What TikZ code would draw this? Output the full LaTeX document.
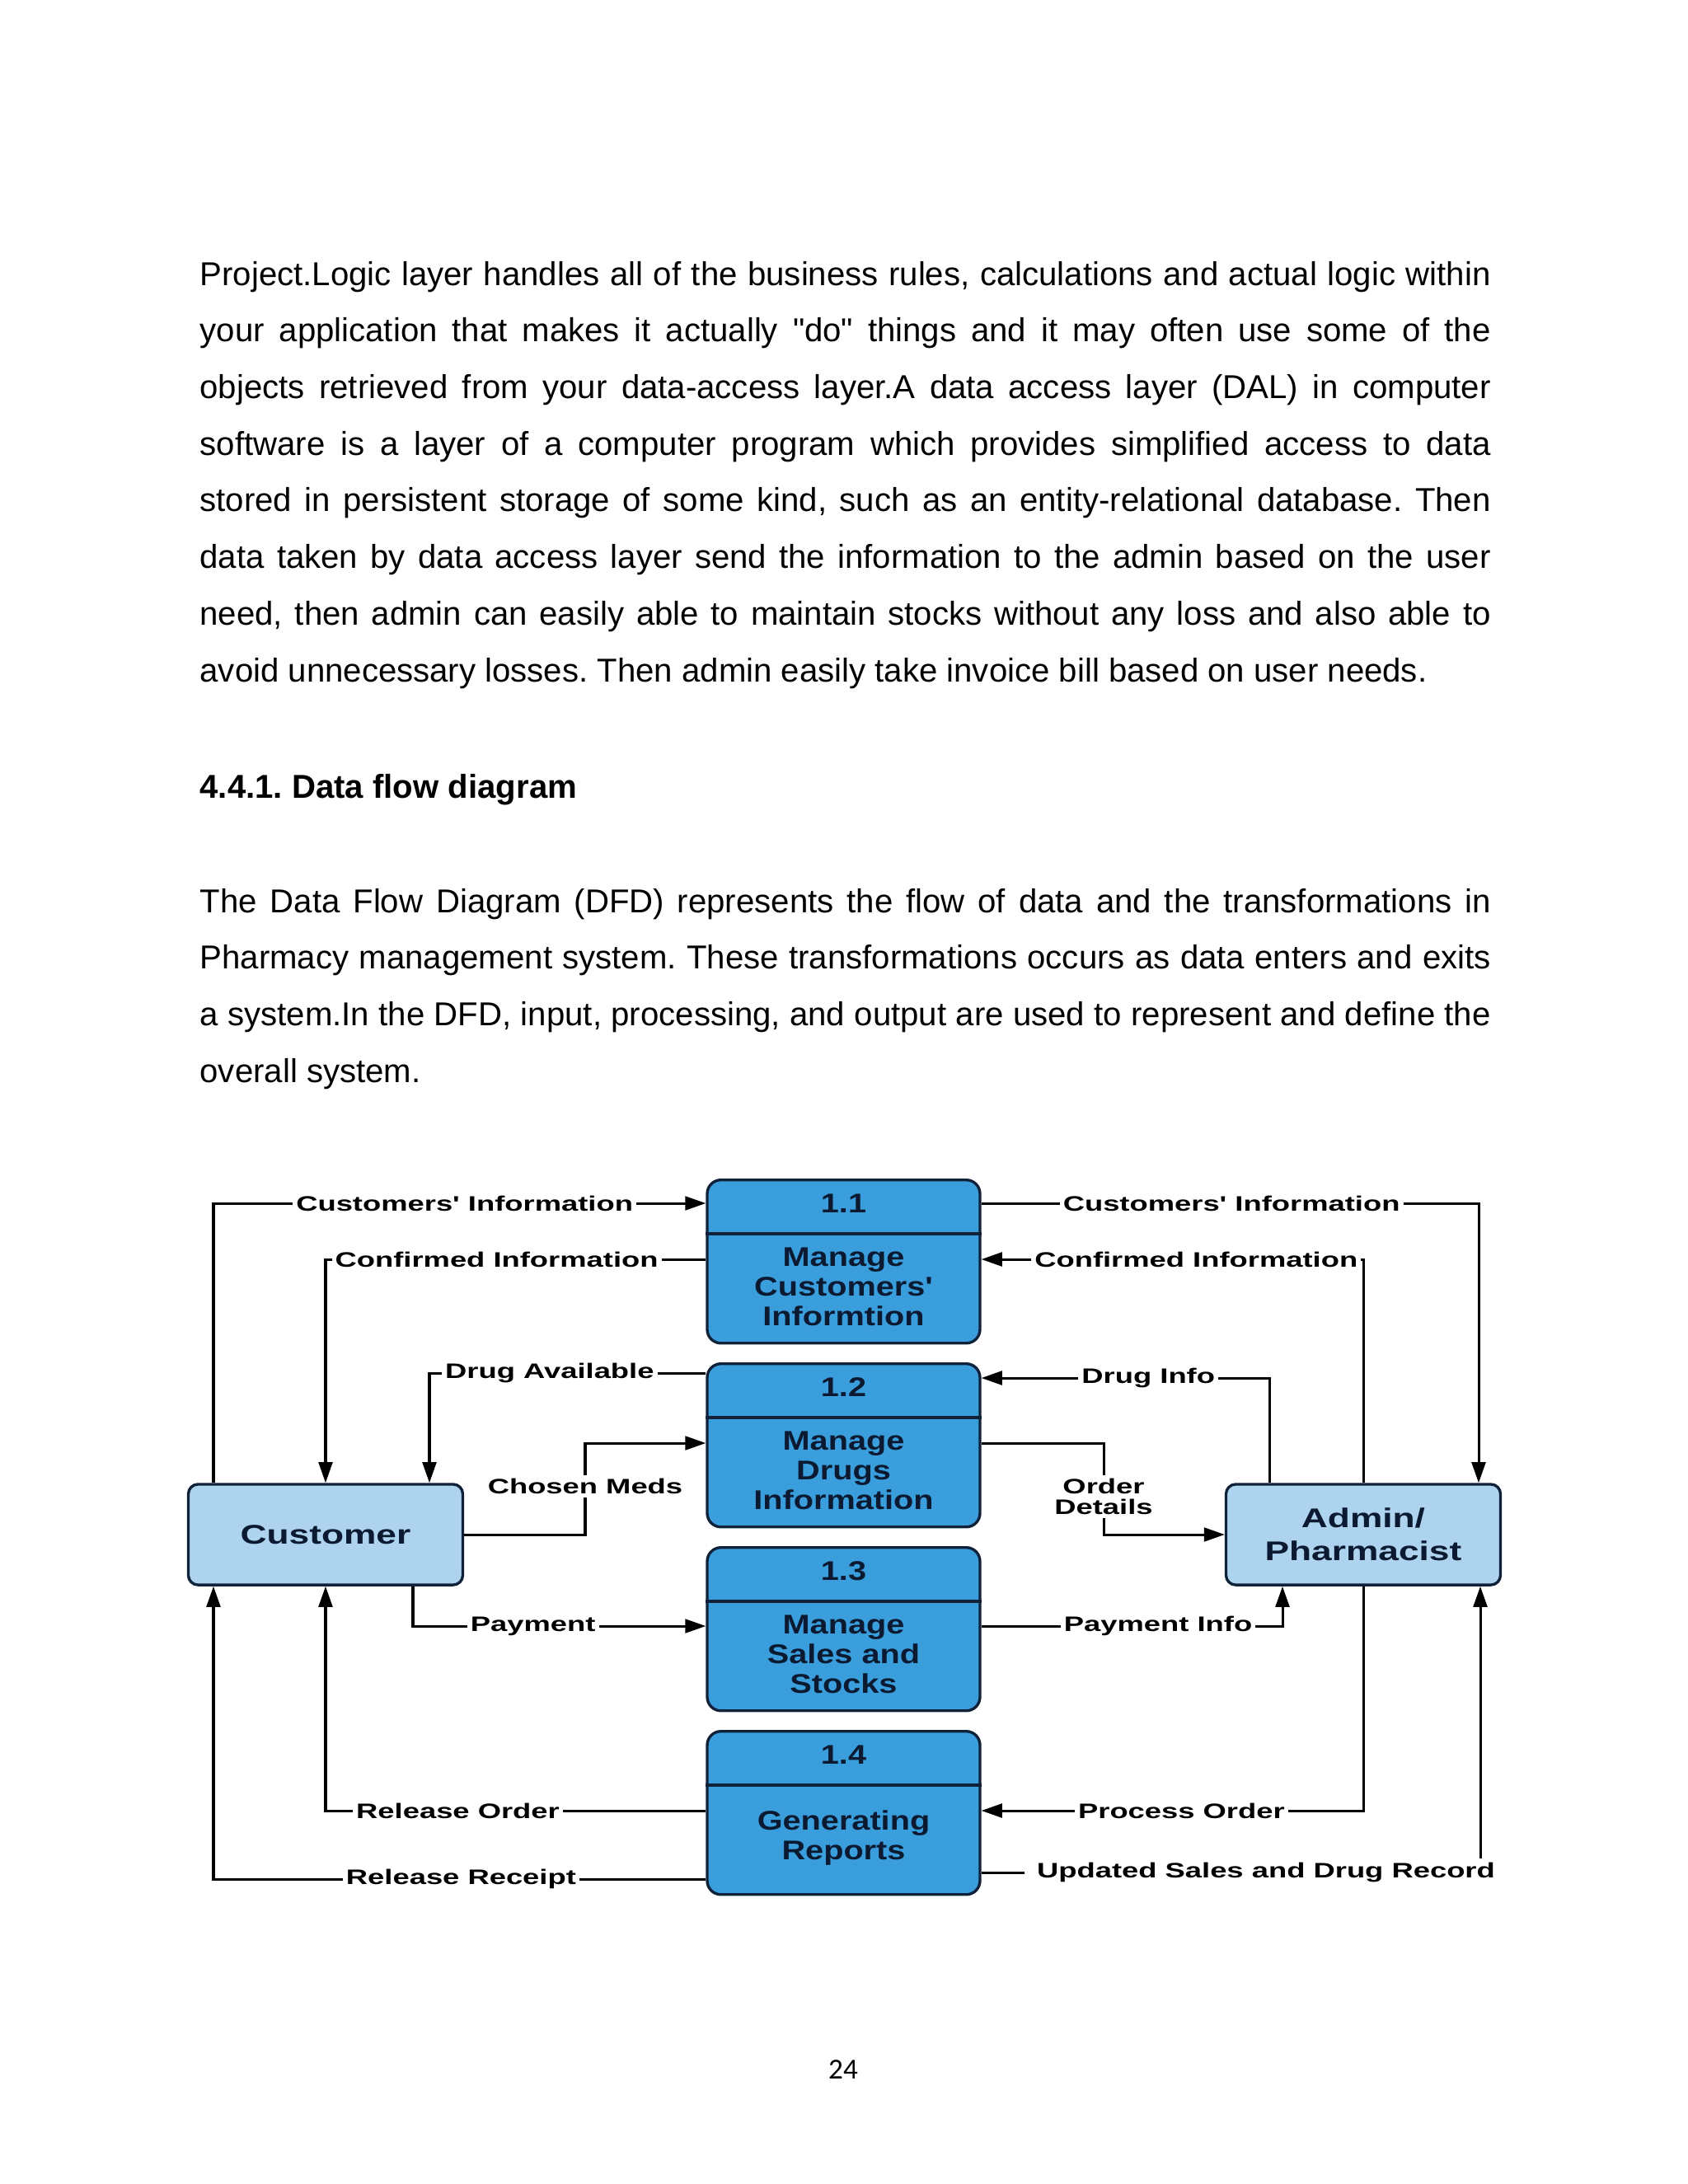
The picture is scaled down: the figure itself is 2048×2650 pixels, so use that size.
\documentclass[tikz,border=0pt]{standalone}
\usepackage{fontspec}
\newfontfamily\bodyfont{Liberation Sans}
\newfontfamily\carlito{Carlito}
\newfontfamily\lblfont{Liberation Sans}[FakeStretch=1.43]
\newfontfamily\boxfont{Liberation Sans}[FakeStretch=1.21]
\newfontfamily\entfont{Liberation Sans}[FakeStretch=1.35]
\usetikzlibrary{arrows.meta}
\frenchspacing

\definecolor{procblue}{HTML}{3A9EDD}
\definecolor{entblue}{HTML}{AED3EE}
\definecolor{boxedge}{HTML}{10223A}
\definecolor{boxtext}{HTML}{0B1A30}

\tikzset{
  line/.style={draw=black, line width=0.9pt},
  flow/.style={line, -{Triangle[length=7.5pt,width=5pt]}},
  lbl/.style={fill=white, inner sep=1.2pt, text=black, align=center,
    font=\lblfont\bfseries\fontsize{7.6}{7.4}\selectfont},
  procbox/.style={draw=boxedge, line width=1pt, fill=procblue, rounded corners=5pt,
    minimum width=98.9pt, minimum height=59.2pt, inner sep=0pt},
  proctext/.style={text=boxtext, align=center, inner sep=0pt,
    font=\boxfont\bfseries\fontsize{9.8}{10.8}\selectfont},
  entbox/.style={draw=boxedge, line width=1pt, fill=entblue, rounded corners=3.5pt,
    minimum width=99.5pt, minimum height=36.5pt, text=boxtext, align=center,
    font=\entfont\bfseries\fontsize{9.8}{12}\selectfont},
  bodyline/.style={anchor=base west, inner sep=0pt, font=\bodyfont\fontsize{12}{14}\selectfont},
}

\begin{document}
\begin{tikzpicture}[x=0.298828pt, y=-0.298828pt]

\fill[white] (0,0) rectangle (2048,2650);
\useasboundingbox (0,0) rectangle (2048,2650);

% Parametri
\def\textw{468pt} % larghezza del testo

% Testo della pagina
\foreach \linetext [count=\k from 0] in {
    {Project.Logic layer handles all of the business rules, calculations and actual logic within},
    {your application that makes it actually "do" things and it may often use some of the},
    {objects retrieved from your data-access layer.A data access layer (DAL) in computer},
    {software is a layer of a computer program which provides simplified access to data},
    {stored in persistent storage of some kind, such as an entity-relational database. Then},
    {data taken by data access layer send the information to the admin based on the user},
    {need, then admin can easily able to maintain stocks without any loss and also able to}} {
    \node[bodyline] (pa\k) at (242,{346+68.7*\k}) {\hbox to \textw{\linetext}};
}
\node[bodyline] (pa7) at (242,827) {avoid unnecessary losses. Then admin easily take invoice bill based on user needs.};

\node[bodyline, font=\bodyfont\bfseries\fontsize{12}{14}\selectfont] (head) at (242,968) {4.4.1. Data flow diagram};

\foreach \linetext [count=\k from 0] in {
    {The Data Flow Diagram (DFD) represents the flow of data and the transformations in},
    {Pharmacy management system. These transformations occurs as data enters and exits},
    {a system.In the DFD, input, processing, and output are used to represent and define the}} {
    \node[bodyline] (pb\k) at (242,{1107+68.7*\k}) {\hbox to \textw{\linetext}};
}
\node[bodyline] (pb3) at (242,1313) {overall system.};

\node[font=\carlito\fontsize{10.5}{12}\selectfont, anchor=base] (pagenum) at (1023,2522) {24};

% Entita esterne
\node[entbox] (cust) at (395,1862) {Customer};
\node[entbox] (admin) at (1654,1862) {Admin/\\Pharmacist};

% Processi 1.1 - 1.4
\foreach \pnum/\txt [count=\k] in {1.1/{Manage\\Customers'\\Informtion},
    1.2/{Manage\\Drugs\\Information}, 1.3/{Manage\\Sales and\\Stocks},
    1.4/{Generating\\Reports}} {
    \pgfmathsetmacro\boxtop{1430+223*(\k-1)}
    \pgfmathsetmacro\divy{\boxtop+67}
    \pgfmathsetmacro\numy{\boxtop+30}
    \pgfmathsetmacro\txty{\boxtop+131}
    \node[procbox, anchor=north] (p\k) at (1023.5,\boxtop) {};
    \draw[draw=boxedge, line width=1pt] (p\k.west |- 0,\divy) -- (p\k.east |- 0,\divy);
    \node[proctext] (n\k) at (1023.5,\numy) {\pnum};
    \node[proctext] (t\k) at (1023.5,\txty) {\txt};
}

% Flussi lato cliente
\draw[flow] (cust.north -| 259,0) -- (259,1460) -- node[lbl, pos=0.51] {Customers' Information} (p1.west |- 0,1460);
\draw[flow] (p1.west |- 0,1528) -- node[lbl, pos=0.55] {Confirmed Information} (cust.north |- 0,1528) -- (cust.north);
\draw[flow] (p2.west |- 0,1666) -- node[lbl, pos=0.565] {Drug Available} (521,1666) -- (cust.north -| 521,0);
\draw[flow] (cust.east) -- (710,1862) -- node[lbl, pos=0.53] {Chosen Meds} (710,1751) -- (p2.west |- 0,1751);
\draw[flow] (cust.south -| 501,0) -- (501,1973) -- node[lbl, pos=0.41] {Payment} (p3.west |- 0,1973);
\draw[flow] (p4.west |- 0,2197) -- node[lbl, pos=0.652] {Release Order} (cust.south |- 0,2197) -- (cust.south);
\draw[flow] (p4.west |- 0,2280) -- node[lbl, pos=0.497] {Release Receipt} (259,2280) -- (cust.south -| 259,0);

% Flussi lato admin
\draw[flow] (p1.east |- 0,1460) -- node[lbl, pos=0.503] {Customers' Information} (1794,1460) -- (admin.north -| 1794,0);
\draw[flow] (admin.north) -- (admin.north |- 0,1528) -- node[lbl, pos=0.4375] {Confirmed Information} (p1.east |- 0,1528);
\draw[flow] (admin.north -| 1540,0) -- (1540,1672) -- node[lbl, pos=0.42] {Drug Info} (p2.east |- 0,1672);
\draw[flow] (p2.east |- 0,1751) -- (1339,1751) -- node[lbl, pos=0.585] {Order\\Details} (1339,1862) -- (admin.west);
\draw[flow] (p3.east |- 0,1973) -- node[lbl, pos=0.587] {Payment Info} (1556,1973) -- (admin.south -| 1556,0);
\draw[flow] (admin.south) -- (admin.south |- 0,2197) -- node[lbl, pos=0.476] {Process Order} (p4.east |- 0,2197);

\node[lbl] (upd) at (1536,2272) {Updated Sales and Drug Record};
\draw[line] (p4.east |- 0,2272) -- ([xshift=-3pt]upd.west);
\draw[flow] (upd.north -| 1796,0) -- (admin.south -| 1796,0);

\end{tikzpicture}
\end{document}
